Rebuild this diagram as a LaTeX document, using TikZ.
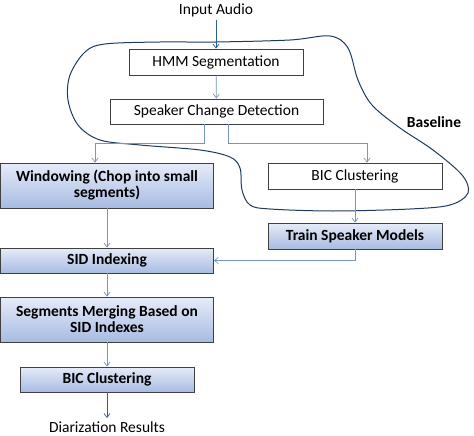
\documentclass[tikz,border=0pt]{standalone}
\usepackage{fontspec}
\setmainfont{Carlito}
\usepackage{tikz}
\usetikzlibrary{arrows.meta, positioning}

\definecolor{linkblue}{HTML}{7396C2}
\definecolor{darkblue}{HTML}{2F5F9A}
\definecolor{blobblue}{HTML}{1F3A5F}
\definecolor{boxtop}{HTML}{E6ECF8}
\definecolor{boxbot}{HTML}{A7BBE2}

\newcommand{\diagfont}{\fontsize{15.5}{16}\selectfont}

\tikzset{
  plainbox/.style={draw=black!75, line width=0.8pt, fill=white, minimum width=174pt, minimum height=26pt, inner sep=1pt, align=center},
  bluebox/.style={plainbox, top color=boxtop, bottom color=boxbot, font=\diagfont\bfseries},
  link/.style={draw=linkblue, line width=0.7pt, -{Straight Barb[length=4pt,width=6pt]}},
  mainlink/.style={link, draw=darkblue}
}

\begin{document}
\begin{tikzpicture}[x=1pt, y=-1pt, font=\diagfont]
  \useasboundingbox (0,0) rectangle (474,436);

  % Baseline
  \draw[blobblue, line width=1pt] plot[smooth cycle, tension=0.55] coordinates {
    (216,42) (290,40) (330,36) (348,48) (358,80) (372,105) (400,128)
    (433,150) (462,175) (468,193) (450,205) (410,209) (333,211) (270,209)
    (250,205) (242,190) (240,168) (230,157) (200,150) (140,145) (100,140)
    (78,125) (68,100) (70,75) (85,52) (105,44) (160,42)};
  \node[font=\diagfont\bfseries] (base) at (434,122) {Baseline};

  % top
  \node (input) at (216,10) {Input Audio};
  \node[plainbox] (hmm) at (216,62) {HMM Segmentation};
  \node[plainbox, minimum width=213pt, minimum height=25pt] (scd) at (216.5,111.5) {Speaker Change Detection};

  % left column
  \node[bluebox, minimum width=213pt, minimum height=45pt] (win) at (107,185.5) {Windowing (Chop into small\\segments)};
  \node[bluebox, minimum width=213pt, minimum height=25pt] (sid) at (107,260.5) {SID Indexing};
  \node[bluebox, minimum width=213pt, minimum height=45pt] (merge) at (107,319.5) {Segments Merging Based on\\SID Indexes};
  \node[bluebox, minimum height=25pt] (bic2) at (107,379.5) {BIC Clustering};
  \node (result) at (107,427) {Diarization Results};

  % right column
  \node[plainbox] (bic1) at (355,176) {BIC Clustering};
  \node[bluebox] (train) at (355,236) {Train Speaker Models};

  \coordinate (j1) at (204,143);
  \coordinate (j2) at (228,143);

  \draw[mainlink] (input) -- (hmm);
  \draw[link] (hmm) -- (scd);
  \draw[link] (scd.south -| j1) -- (j1) -| ([xshift=-12pt]win.north);
  \draw[link] (scd.south -| j2) -- (j2) -| ([xshift=12pt]bic1.north);
  \draw[link] (bic1) -- (train);
  \draw[link] (train.south) |- (sid.east);
  \draw[link] (win) -- (sid);
  \draw[link] (sid) -- (merge);
  \draw[link] (merge) -- (bic2);
  \draw[mainlink] (bic2) -- (result);
\end{tikzpicture}
\end{document}
